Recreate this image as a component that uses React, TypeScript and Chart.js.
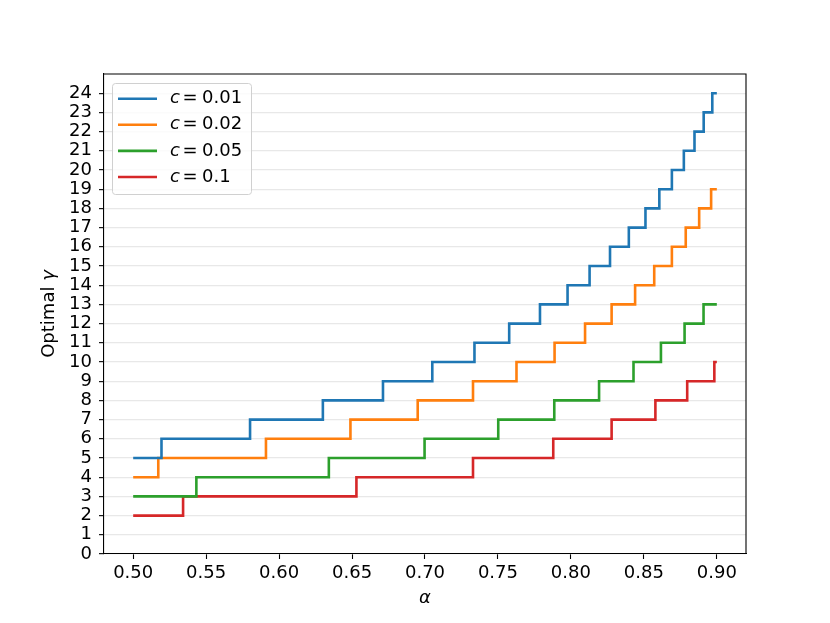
import React, { useEffect, useRef } from 'react';
import { Chart, registerables } from 'chart.js';

Chart.register(...registerables);

// step positions (alpha where gamma jumps)
const alphaC001 = [0.5, 0.5194, 0.5801, 0.63, 0.6712, 0.705, 0.7339, 0.7577, 0.7788, 0.7977, 0.8128, 0.8268, 0.8397, 0.8511, 0.8606, 0.8692, 0.8774, 0.8847, 0.891, 0.8969, 0.9];
const gammaC001 = [5, 6, 7, 8, 9, 10, 11, 12, 13, 14, 15, 16, 17, 18, 19, 20, 21, 22, 23, 24, 24];

const alphaC002 = [0.5, 0.5172, 0.591, 0.6489, 0.695, 0.7329, 0.7627, 0.7888, 0.8097, 0.8279, 0.844, 0.8571, 0.8692, 0.8787, 0.8879, 0.8961, 0.9];
const gammaC002 = [4, 5, 6, 7, 8, 9, 10, 11, 12, 13, 14, 15, 16, 17, 18, 19, 19];

const alphaC005 = [0.5, 0.5433, 0.6341, 0.6997, 0.7502, 0.7886, 0.8193, 0.8429, 0.8617, 0.8779, 0.8909, 0.9];
const gammaC005 = [3, 4, 5, 6, 7, 8, 9, 10, 11, 12, 13, 13];

const alphaC01 = [0.5, 0.5342, 0.653, 0.7329, 0.7879, 0.8279, 0.8579, 0.8797, 0.8983, 0.9];
const gammaC01 = [2, 3, 4, 5, 6, 7, 8, 9, 10, 10];

const seriesLabels = ['0.01', '0.02', '0.05', '0.1'];
const seriesColors = ['#1f77b4', '#ff7f0e', '#2ca02c', '#d62728'];
const xTickValues = [0.5, 0.55, 0.6, 0.65, 0.7, 0.75, 0.8, 0.85, 0.9];

const FONT = 'DejaVu Sans';

function zip(xs: number[], ys: number[]) {
  return xs.map((x, i) => ({ x, y: ys[i] }));
}

// top/right spines, y label with italic gamma, and legend box in the upper left
const framePlugin = {
  id: 'frame',
  afterDraw(chart: any) {
    const { ctx, chartArea } = chart;
    ctx.save();
    ctx.strokeStyle = '#000';
    ctx.lineWidth = 1.1;
    ctx.beginPath();
    ctx.moveTo(chartArea.left, chartArea.top);
    ctx.lineTo(chartArea.right, chartArea.top);
    ctx.lineTo(chartArea.right, chartArea.bottom);
    ctx.stroke();

    // y axis title
    ctx.save();
    ctx.translate(49.5, (chartArea.top + chartArea.bottom) / 2);
    ctx.rotate(-Math.PI / 2);
    ctx.fillStyle = '#000';
    ctx.textBaseline = 'middle';
    ctx.textAlign = 'left';
    const part1 = 'Optimal ';
    ctx.font = `18px "${FONT}"`;
    const w1 = ctx.measureText(part1).width;
    ctx.font = `italic 18px "${FONT}"`;
    const w2 = ctx.measureText('γ').width;
    const x0 = -(w1 + w2) / 2;
    ctx.font = `18px "${FONT}"`;
    ctx.fillText(part1, x0, 0);
    ctx.font = `italic 18px "${FONT}"`;
    ctx.fillText('γ', x0 + w1, 0);
    ctx.restore();

    const bx = 112.5, by = 83.5, bw = 139, bh = 111, r = 3;
    ctx.beginPath();
    ctx.moveTo(bx + r, by);
    ctx.arcTo(bx + bw, by, bx + bw, by + bh, r);
    ctx.arcTo(bx + bw, by + bh, bx, by + bh, r);
    ctx.arcTo(bx, by + bh, bx, by, r);
    ctx.arcTo(bx, by, bx + bw, by, r);
    ctx.closePath();
    ctx.fillStyle = 'rgba(255,255,255,0.8)';
    ctx.fill();
    ctx.strokeStyle = '#d0d0d0';
    ctx.lineWidth = 1;
    ctx.stroke();

    chart.data.datasets.forEach((ds: any, i: number) => {
      const y = 98.7 + i * 26.1;
      ctx.strokeStyle = ds.borderColor;
      ctx.lineWidth = 2.6;
      ctx.beginPath();
      ctx.moveTo(118, y);
      ctx.lineTo(157, y);
      ctx.stroke();
      ctx.fillStyle = '#000';
      ctx.textBaseline = 'middle';
      ctx.textAlign = 'left';
      ctx.font = `italic 18px "${FONT}"`;
      ctx.fillText('c', 170, y);
      ctx.font = `18px "${FONT}"`;
      ctx.fillText('=', 182.5, y);
      ctx.fillText(seriesLabels[i], 202, y);
    });
    ctx.restore();
  },
};

export default function App() {
  const canvasRef = useRef<HTMLCanvasElement>(null);

  useEffect(() => {
    const alphas = [alphaC001, alphaC002, alphaC005, alphaC01];
    const gammas = [gammaC001, gammaC002, gammaC005, gammaC01];
    const chart = new Chart(canvasRef.current!, {
      type: 'line',
      data: {
        datasets: seriesLabels.map((lab, i) => ({
          label: 'c = ' + lab,
          data: zip(alphas[i], gammas[i]),
          borderColor: seriesColors[i],
          backgroundColor: seriesColors[i],
          borderWidth: 2.6,
          pointRadius: 0,
          stepped: 'before' as const,
          fill: false,
        })),
      },
      options: {
        animation: false,
        responsive: true,
        maintainAspectRatio: false,
        devicePixelRatio: 1,
        layout: { padding: { top: 74, right: 84, left: 0, bottom: 0 } },
        plugins: { legend: { display: false }, tooltip: { enabled: false } },
        font: { family: FONT, size: 18 },
        scales: {
          x: {
            type: 'linear',
            min: 0.48,
            max: 0.92,
            afterBuildTicks: (scale: any) => {
              scale.ticks = xTickValues.map((v) => ({ value: v }));
            },
            afterFit: (scale: any) => {
              scale.height = 69;
            },
            ticks: {
              color: '#000',
              font: { family: FONT, size: 18 },
              padding: 4,
              maxRotation: 0,
              autoSkip: false,
              callback: (v: any) => Number(v).toFixed(2),
            },
            grid: { drawOnChartArea: false, drawTicks: true, tickLength: 5, tickColor: '#000', tickWidth: 1.1 },
            border: { color: '#000', width: 1.1 },
            title: {
              display: true,
              text: 'α',
              color: '#000',
              font: { family: FONT, size: 18, style: 'italic' },
              padding: { top: 0, bottom: 14 },
            },
          },
          y: {
            type: 'linear',
            min: 0,
            max: 25,
            afterBuildTicks: (scale: any) => {
              scale.ticks = scale.ticks.filter((t: any) => t.value <= 24);
            },
            afterFit: (scale: any) => {
              scale.width = 104;
            },
            ticks: {
              stepSize: 1,
              autoSkip: false,
              color: '#000',
              font: { family: FONT, size: 18 },
              padding: 7,
            },
            grid: { color: '#e8e8e8', lineWidth: 1.3, drawTicks: true, tickLength: 5, tickColor: '#000', tickWidth: 1.1 },
            border: { color: '#000', width: 1.1 },
            title: { display: false },
          },
        },
      },
      plugins: [framePlugin],
    });
    return () => chart.destroy();
  }, []);

  return (
    <div style={{ position: 'absolute', left: 0, top: 0, width: 830, height: 623, background: '#fff' }}>
      <canvas ref={canvasRef} />
    </div>
  );
}
